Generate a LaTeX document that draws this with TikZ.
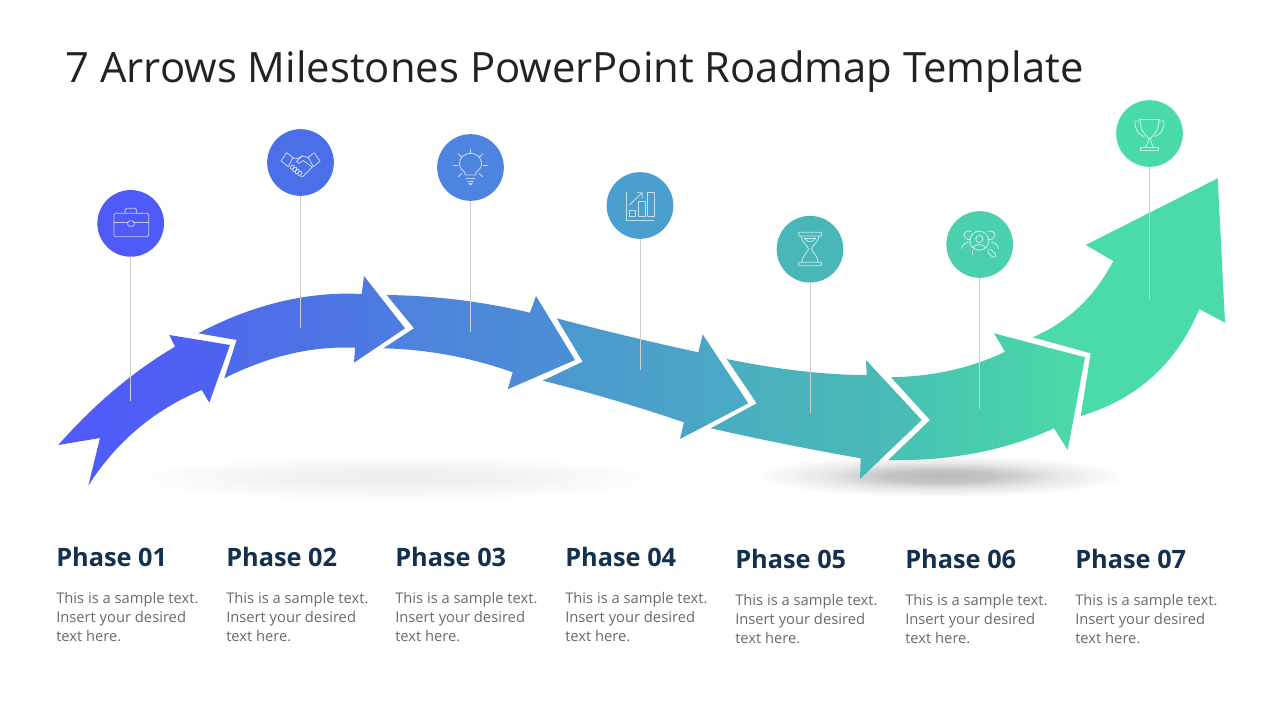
\documentclass[tikz,border=0pt]{standalone}
\usepackage{fontspec}
\setmainfont{Open Sans}
\definecolor{ca}{HTML}{505AFB}\definecolor{cb}{HTML}{4E63F0}
\definecolor{cc}{HTML}{4D67EC}\definecolor{cd}{HTML}{4E7DE0}
\definecolor{ce}{HTML}{4E80DF}\definecolor{cf}{HTML}{4C90D3}
\definecolor{cg}{HTML}{4B96CF}\definecolor{ch}{HTML}{4AABC4}
\definecolor{ci}{HTML}{4AACC0}\definecolor{cj}{HTML}{49BDB6}
\definecolor{ck}{HTML}{48C0B4}\definecolor{cl}{HTML}{4ADAA8}
\definecolor{cm}{HTML}{4ADBA8}
\definecolor{dot1}{HTML}{4F5BF8}\definecolor{dot2}{HTML}{4A6FE8}
\definecolor{dot3}{HTML}{4C84DF}\definecolor{dot4}{HTML}{4A9FCE}
\definecolor{dot5}{HTML}{49B6B8}\definecolor{dot6}{HTML}{4AD0AC}
\definecolor{dot7}{HTML}{4ADAA8}
\definecolor{headc}{HTML}{14304F}\definecolor{bodyc}{HTML}{6A6A6A}
\definecolor{titlec}{HTML}{222222}\definecolor{pinc}{HTML}{CFCFCF}
\pgfdeclareradialshading{shadowdark}{\pgfpointorigin}{color(0bp)=(black!27); color(7bp)=(black!23); color(15bp)=(black!9); color(24bp)=(white); color(50bp)=(white)}
\pgfdeclareradialshading{shadowlight}{\pgfpointorigin}{color(0bp)=(black!7); color(9bp)=(black!5.5); color(17bp)=(black!2.5); color(24bp)=(white); color(50bp)=(white)}
\tikzset{
  dot/.style={circle,inner sep=0pt,minimum size=50pt,fill=#1},
  pin/.style={draw=pinc,line width=0.75pt},
  icon/.style={draw=white,draw opacity=.68,line width=.65pt,line join=round,line cap=round,fill=none},
  phasehead/.style={anchor=base west,inner sep=0pt,text=headc,font=\fontsize{19}{22}\selectfont\bfseries},
  phasebody/.style={anchor=north west,inner sep=0pt,align=left,text=bodyc,font=\fontsize{11.05}{14.25}\selectfont},
}
\newcommand{\sampletext}{This is a sample text.\\Insert your desired\\text here.}
\begin{document}
\begin{tikzpicture}[x=0.75pt,y=-0.75pt]
\useasboundingbox (0,0) rectangle (1280,720);
\fill[white] (0,0) rectangle (1280,720);
% title
\node[anchor=base west,inner sep=0pt,text=titlec,font=\fontsize{31.34}{36}\selectfont] (title) at (65.5,83) {7 Arrows Milestones PowerPoint Roadmap Template};
% shadows
\shade[shading=shadowlight] (395,478) ellipse [x radius=285,y radius=24];
\shade[shading=shadowdark] (940,476) ellipse [x radius=195,y radius=22];
% arrows
\shade[left color=ca,right color=cb] (58.3,445) .. controls (94.8,403.7) and (133.7,371) .. (175,346.7) -- (169.3,335) -- (230,345) -- (209.3,402.7) -- (201.7,390) .. controls (153.9,410) and (116.1,441.9) .. (88.3,485.7) -- (100,438) -- cycle;
\shade[left color=cc,right color=cd] (198.3,333.3) .. controls (252.8,304.4) and (307.3,291.3) .. (361.7,294) -- (364,276) -- (405,328.3) -- (354,362.7) -- (355,347.7) .. controls (311.7,345.9) and (268.1,356.1) .. (224.3,378.3) -- (236.7,340) -- cycle;
\shade[left color=ce,right color=cf] (386.7,295) .. controls (435.6,295.7) and (483.3,301.6) .. (530,312.7) -- (536,296) -- (575,360) -- (507.7,389.3) -- (512.7,372.3) .. controls (470.9,357.4) and (427.8,349.4) .. (383.3,348.3) -- (414,328.3) -- cycle;
\shade[left color=cg,right color=ch] (556.7,318.3) .. controls (604.2,330.8) and (651.4,342.1) .. (698.3,352.3) -- (702.7,334.3) -- (748.3,403.3) -- (680,439) -- (684,422.3) .. controls (636,406.1) and (589,392.2) .. (542.7,380.7) -- (582.7,361.7) -- cycle;
\shade[left color=ci,right color=cj] (726.7,359) .. controls (778.9,369.7) and (825.6,375) .. (866.7,375) -- (866,360) -- (921.7,420) -- (860,479) -- (860.7,458.3) .. controls (813.6,450.1) and (763.6,440.2) .. (710.7,428.3) -- (756.7,403.3) -- cycle;
\shade[left color=ck,right color=cl] (891,377.3) .. controls (933.7,376.4) and (971.7,367.9) .. (1005,351.7) -- (994,333.3) -- (1085,357.3) -- (1067.7,450) -- (1054,428.3) .. controls (1004.7,450.8) and (949.4,461.3) .. (888.3,460) -- (930,420) -- cycle;
\shade[left color=cm,right color=cm] (1032.7,337.3) .. controls (1067.6,322.4) and (1094.4,297) .. (1113.3,261) -- (1085.7,245) -- (1217.7,178.3) -- (1225,322.7) -- (1199.3,309) .. controls (1176.4,363.7) and (1137,399.3) .. (1080.7,416) -- (1090.7,353.3) -- cycle;
% circles
\node[dot=dot1] (c1) at (130.7,223.4) {};
\node[dot=dot2] (c2) at (300.5,162.5) {};
\node[dot=dot3] (c3) at (470.5,167.5) {};
\node[dot=dot4] (c4) at (640,205.5) {};
\node[dot=dot5] (c5) at (810,249.2) {};
\node[dot=dot6] (c6) at (979.7,244.5) {};
\node[dot=dot7] (c7) at (1149.5,133.5) {};
% pins
\coordinate (p1) at (130.7,401);\coordinate (p2) at (300.5,328);\coordinate (p3) at (470.5,332);
\coordinate (p4) at (640,370);\coordinate (p5) at (810,413);\coordinate (p6) at (979.7,409);\coordinate (p7) at (1149.5,299);
\draw[pin] (c1.south) -- (p1);\draw[pin] (c2.south) -- (p2);\draw[pin] (c3.south) -- (p3);
\draw[pin] (c4.south) -- (p4);\draw[pin] (c5.south) -- (p5);\draw[pin] (c6.south) -- (p6);\draw[pin] (c7.south) -- (p7);
% briefcase
\begin{scope}[icon]
\draw[rounded corners=1pt] (114,213.3) rectangle (148.7,236.7);
\draw[rounded corners=1.2pt] (125,213.3) -- (125,208.3) -- (136.7,208.3) -- (136.7,213.3);
\draw (114,222.3) -- (127.7,222.3) (134.3,222.3) -- (148.7,222.3);
\draw[rounded corners=1.5pt] (127.7,221) rectangle (134.3,226.3);
\end{scope}
% handshake
\begin{scope}[icon]
\draw (286.7,152.7) -- (281,161) -- (288.3,166.7) -- (293,157.5) -- cycle;
\draw (314,152.7) -- (320,161) -- (313.3,166.7) -- (308.3,157.3) -- cycle;
\draw (292.5,158) -- (298,158.5) -- (302,156) -- (308.5,157.5);
\draw (302,156) -- (296.5,161.5) -- (299,163.5) -- (303,160.5) -- (312.3,167) -- (303,176.5) -- (300,176);
\draw[rounded corners=1pt] (289.5,168) -- (292.5,164.5) -- (295,166.5) -- (292,170) -- cycle;
\draw[rounded corners=1pt] (292,170) -- (295,166.5) -- (297.5,168.5) -- (294.5,172.5) -- cycle;
\draw[rounded corners=1pt] (294.5,172.5) -- (297.5,168.5) -- (300,170.5) -- (297,174.5) -- cycle;
\draw[rounded corners=1pt] (297,174.5) -- (300,170.5) -- (302.5,172.5) -- (300,176) -- cycle;
\end{scope}
% lightbulb
\begin{scope}[icon]
\draw (465.5,175) .. controls (465.5,170) and (459.5,170.5) .. (459.5,163.5) .. controls (459.5,150) and (481.5,150) .. (481.5,163.5) .. controls (481.5,170.5) and (475.5,170) .. (475.5,175) -- cycle;
\draw (466,178.3) -- (475,178.3) (467.5,181) -- (473.5,181);
\draw (468.8,183.2) -- (472.2,183.2) -- (471.2,184.6) -- (469.8,184.6) -- cycle;
\draw (470.5,149) -- (470.5,153.3) (453.5,165) -- (458,165) (483,165) -- (487.5,165);
\draw (458.2,154) -- (461.5,156.8) (482.8,154) -- (479.5,156.8);
\draw (458.5,176.5) -- (461.8,173.5) (482.5,176.5) -- (479.2,173.5);
\end{scope}
% chart
\begin{scope}[icon]
\draw (626,192.3) -- (626,220.7) -- (654,220.7);
\draw (629.3,210) rectangle (635.7,216.7);
\draw (638.3,201) rectangle (645,216.7);
\draw (647.3,192.3) rectangle (654,216.7);
\draw (629.3,205) -- (642.3,192.7) (637.3,192.7) -- (642.3,192.7) -- (642.3,197.7);
\end{scope}
% hourglass
\begin{scope}[icon]
\draw[rounded corners=.8pt] (798.3,232.3) rectangle (821.7,236);
\draw[rounded corners=.8pt] (798.3,262.3) rectangle (821.7,265.7);
\draw (801,236) .. controls (801.5,243) and (808,245) .. (808.5,249) .. controls (808,252) and (802,256) .. (801.7,262.3);
\draw (819,236) .. controls (818.5,243) and (812,245) .. (811.5,249) .. controls (812,252) and (818,256) .. (818.3,262.3);
\draw (804.5,238) .. controls (807,243) and (813,243) .. (815.5,238);
\draw (804.5,238) -- (815.5,238);
\end{scope}
% people search
\begin{scope}[icon]
\draw (979.3,240.7) circle [radius=9.5];
\draw (979.3,239) circle [radius=3.6];
\draw (973,248) .. controls (974,243.5) and (984.5,243.5) .. (985.5,248);
\draw[rounded corners=1pt] (987,251.5) -- (990,248.8) -- (996.5,255) -- (993.5,258) -- cycle;
\draw (970.5,239.5) .. controls (966,240.5) and (962.5,236) .. (965,232.5) .. controls (966.5,230.5) and (969,230.5) .. (971,231.5);
\draw (988.5,239.5) .. controls (993,240.5) and (996.5,236) .. (994,232.5) .. controls (992.5,230.5) and (990,230.5) .. (988,231.5);
\draw (961.7,248.5) .. controls (962,245) and (965,243) .. (968.5,242);
\draw (998.3,248.5) .. controls (998,245) and (995,243) .. (991.5,242);
\draw (972.3,250.5) -- (972.3,254.5);
\end{scope}
% trophy
\begin{scope}[icon]
\draw (1140,119) -- (1159,119);
\draw (1140,119) .. controls (1140,129) and (1144,135) .. (1149.5,139) .. controls (1155,135) and (1159,129) .. (1159,119);
\draw (1140,121) -- (1135,121) .. controls (1134.5,129) and (1138,134.5) .. (1144,136.5);
\draw (1159,121) -- (1164,121) .. controls (1164.5,129) and (1161,134.5) .. (1155,136.5);
\draw (1148.3,139) .. controls (1148.3,143) and (1147,145) .. (1145,147.3);
\draw (1150.7,139) .. controls (1150.7,143) and (1152,145) .. (1154,147.3);
\draw (1145,147.3) -- (1154,147.3);
\draw (1140.7,147.7) -- (1140.7,150) -- (1158.3,150) -- (1158.3,147.7) -- cycle;
\end{scope}
% text
\node[phasehead] (h1) at (56,566.5) {Phase 01};
\node[phasehead] (h2) at (226,566.5) {Phase 02};
\node[phasehead] (h3) at (395,566.5) {Phase 03};
\node[phasehead] (h4) at (565,566.5) {Phase 04};
\node[phasehead] (h5) at (735,568.5) {Phase 05};
\node[phasehead] (h6) at (905,568.5) {Phase 06};
\node[phasehead] (h7) at (1075,568.5) {Phase 07};
\node[phasebody] (b1) at (56,592) {\sampletext};
\node[phasebody] (b2) at (226,592) {\sampletext};
\node[phasebody] (b3) at (395,592) {\sampletext};
\node[phasebody] (b4) at (565,592) {\sampletext};
\node[phasebody] (b5) at (735,594) {\sampletext};
\node[phasebody] (b6) at (905,594) {\sampletext};
\node[phasebody] (b7) at (1075,594) {\sampletext};
\end{tikzpicture}
\end{document}
